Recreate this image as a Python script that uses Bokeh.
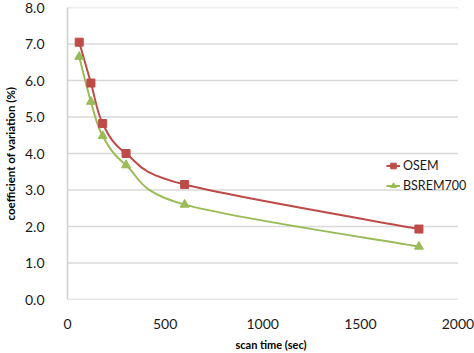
import numpy as np
from bokeh.plotting import figure
from bokeh.models import Range1d, FixedTicker, Legend, LegendItem, NumeralTickFormatter
from bokeh.embed import file_html
from bokeh.resources import INLINE

scan_time = [60, 120, 180, 300, 600, 1800]
osem = [7.05, 5.93, 4.82, 4.00, 3.15, 1.93]
bsrem700 = [6.65, 5.42, 4.48, 3.68, 2.60, 1.45]
x_ticks = [0, 500, 1000, 1500, 2000]
y_ticks = [0, 1, 2, 3, 4, 5, 6, 7, 8]

RED = "#BE4B48"
GREEN = "#9BBB59"


def smooth_controls(xs, ys):
    # Catmull-Rom style Bezier control points (Excel-like smoothed line)
    x = np.asarray(xs, float)
    y = np.asarray(ys, float)
    n = len(x)
    xp = np.concatenate([[x[0]], x, [x[-1]]])
    yp = np.concatenate([[y[0]], y, [y[-1]]])
    d = dict(x0=[], y0=[], x1=[], y1=[], cx0=[], cy0=[], cx1=[], cy1=[])
    for i in range(n - 1):
        j = i + 1
        d["x0"].append(x[i]); d["y0"].append(y[i])
        d["x1"].append(x[i + 1]); d["y1"].append(y[i + 1])
        d["cx0"].append(x[i] + (xp[j + 1] - xp[j - 1]) / 6)
        d["cy0"].append(y[i] + (yp[j + 1] - yp[j - 1]) / 6)
        d["cx1"].append(x[i + 1] - (xp[j + 2] - xp[j]) / 6)
        d["cy1"].append(y[i + 1] - (yp[j + 2] - yp[j]) / 6)
    return d


# frame spans to the right edge so the legend is not clipped; data area ends at 2000
x_end = x_ticks[-1] * 419 / 402
p = figure(width=474, height=353, output_backend="svg", toolbar_location=None,
           x_range=Range1d(0, x_end), y_range=Range1d(0, 8),
           min_border_left=55, min_border_right=0, min_border_top=7, min_border_bottom=50)
p.outline_line_color = None
p.background_fill_color = "white"
p.border_fill_color = "white"

FONT = "Lato"
for ax in (p.xaxis, p.yaxis):
    ax.major_tick_line_color = None
    ax.minor_tick_line_color = None
    ax.major_label_text_font = FONT
    ax.major_label_text_font_size = "14px"
    ax.major_label_text_color = "#1A1A1A"
    ax.axis_label_text_font = FONT
    ax.axis_label_text_font_size = "11px"
    ax.axis_label_text_font_style = "bold"
    ax.axis_label_text_color = "#000000"
p.yaxis.axis_line_color = "#D0D0D0"
p.yaxis.axis_line_width = 1.5
p.xaxis.axis_line_color = None
p.yaxis.axis_label_text_font_size = "11.5px"

p.xaxis.ticker = FixedTicker(ticks=x_ticks)
p.yaxis.ticker = FixedTicker(ticks=y_ticks)
p.yaxis.formatter = NumeralTickFormatter(format="0.0")
p.xaxis.axis_label = "scan time (sec)"
p.yaxis.axis_label = "coefficient of variation (%)"
p.xaxis.major_label_standoff = 13
p.yaxis.major_label_standoff = 17
p.xaxis.axis_label_standoff = 6
p.yaxis.axis_label_standoff = 5

p.xgrid.grid_line_color = None
p.ygrid.grid_line_color = None

# horizontal gridlines limited to the data area (0..2000)
n = len(y_ticks)
p.segment(x0=[x_ticks[0]] * n, x1=[x_ticks[-1]] * n, y0=y_ticks, y1=y_ticks,
          line_color=["#D0D0D0"] + ["#D9D9D9"] * (n - 1), line_width=1.5)

c1 = smooth_controls(scan_time, osem)
c2 = smooth_controls(scan_time, bsrem700)
l1 = p.bezier(source=c1, x0="x0", y0="y0", x1="x1", y1="y1", cx0="cx0", cy0="cy0",
              cx1="cx1", cy1="cy1", line_color=RED, line_width=2)
l2 = p.bezier(source=c2, x0="x0", y0="y0", x1="x1", y1="y1", cx0="cx0", cy0="cy0",
              cx1="cx1", cy1="cy1", line_color=GREEN, line_width=2)
s1 = p.scatter(scan_time, osem, marker="square", size=8, fill_color=RED, line_color=RED)
s2 = p.scatter(scan_time, bsrem700, marker="triangle", size=9, fill_color=GREEN, line_color=GREEN)

legend = Legend(items=[LegendItem(label="OSEM", renderers=[l1, s1]),
                       LegendItem(label="BSREM700", renderers=[l2, s2])],
                location=(319, 105), orientation="vertical")
legend.border_line_color = None
legend.background_fill_alpha = 0
legend.padding = 0
legend.margin = 0
legend.spacing = 3
legend.label_height = 17
legend.glyph_height = 17
legend.glyph_width = 14
legend.label_standoff = 3
legend.label_text_font = FONT
legend.label_text_font_size = "12.5px"
legend.label_text_color = "#1A1A1A"
p.add_layout(legend)

open("out.html", "w").write(file_html(p, INLINE))
